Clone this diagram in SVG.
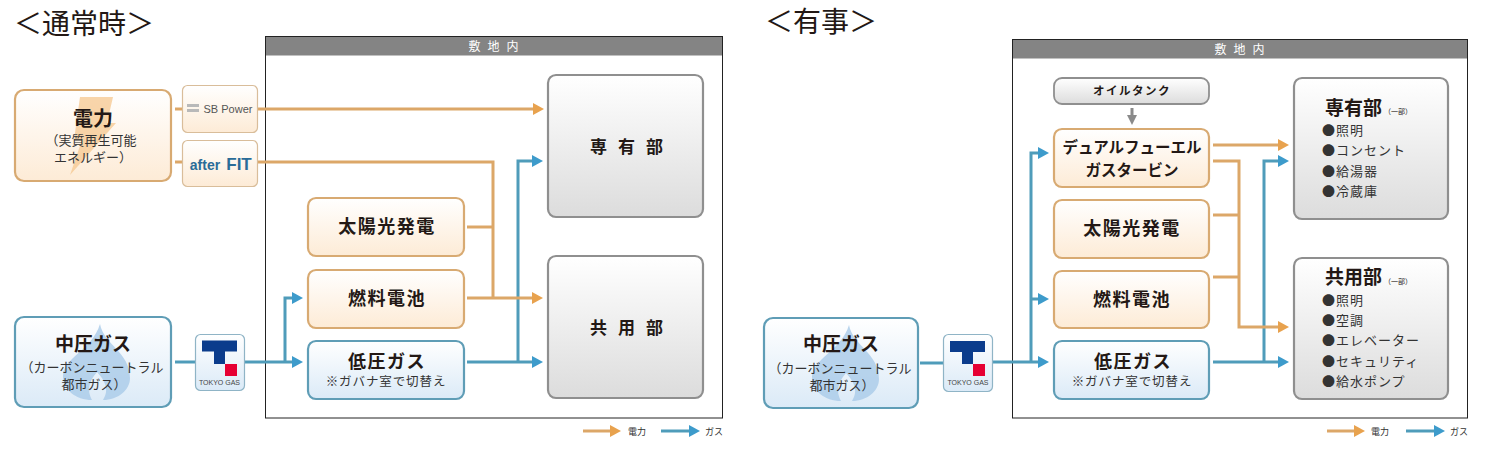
<svg xmlns="http://www.w3.org/2000/svg" width="1488" height="449" viewBox="0 0 1488 449">
<style>
text{font-family:"Noto Sans CJK JP","Noto Sans",sans-serif;fill:#231815;text-anchor:middle}
.box{stroke-width:2.2}
.o{fill:url(#go);stroke:#d8aa72}
.b{fill:url(#gb);stroke:#5f9db6}
.g{fill:url(#gg);stroke:#8f8f8f}
.s{fill:url(#go);stroke:#d9bd9a;stroke-width:1.2}
.t{fill:url(#gb);stroke:#8fb4c6;stroke-width:1.2}
.frame{fill:#fff;stroke:#222;stroke-width:1}
.hd{fill:#848484}
.hdt{fill:#fff;font-size:12px;letter-spacing:7px}
.h1{font-size:28px;text-anchor:start}
.big{font-size:18px;font-weight:700;letter-spacing:1.500px}
.dual{font-size:15.500px;font-weight:700}
.sub{font-size:13px;fill:#333}
.note{font-size:12.500px;letter-spacing:.9px;fill:#333}
.area{font-size:17px;font-weight:700;letter-spacing:11px}
.area2{font-size:19px;font-weight:700;text-anchor:start}
.tiny{font-size:7px;text-anchor:start}
.li{font-size:13px;text-anchor:start;fill:#333;letter-spacing:1px}
.lg{font-size:9px;text-anchor:start;fill:#333}
.co{fill:none;stroke:#dca768;stroke-width:3}
.cb{fill:none;stroke:#4f9cba;stroke-width:3}
.cg{fill:none;stroke:#8a8a8a;stroke-width:3}
.ao{marker-end:url(#mo)}
.ab{marker-end:url(#mb)}
.ag{marker-end:url(#mg)}
.tg{font-size:7px;fill:#444;font-family:"Liberation Sans",sans-serif}
</style>
<defs>
<linearGradient id="go" x1="0" y1="0" x2="0" y2="1"><stop offset="0" stop-color="#fff"/><stop offset="1" stop-color="#fdebd6"/></linearGradient>
<linearGradient id="gb" x1="0" y1="0" x2="0" y2="1"><stop offset="0" stop-color="#fff"/><stop offset="1" stop-color="#dbeaf7"/></linearGradient>
<linearGradient id="gg" x1="0" y1="0" x2="0" y2="1"><stop offset="0" stop-color="#fff"/><stop offset="1" stop-color="#dcdcdc"/></linearGradient>
<marker id="mo" markerUnits="userSpaceOnUse" markerWidth="11" markerHeight="12" viewBox="0 0 11 12" refX="1" refY="6" orient="auto"><path d="M0 0L11 6L0 12z" fill="#e8a24e"/></marker>
<marker id="mb" markerUnits="userSpaceOnUse" markerWidth="11" markerHeight="12" viewBox="0 0 11 12" refX="1" refY="6" orient="auto"><path d="M0 0L11 6L0 12z" fill="#3d9bcb"/></marker>
<marker id="mg" markerUnits="userSpaceOnUse" markerWidth="12" markerHeight="10" viewBox="0 0 12 10" refX="1" refY="5" orient="auto"><path d="M0 0L10 5L0 10z" fill="#8a8a8a"/></marker>
<path id="bolt" d="M80 97H113L107 123H116L70 175L82 140H74Z" fill="#f6c78f" opacity=".75"/>
<path id="flame" d="M100 324C104 345 130 352 130 378C130 390 118 400 103 400C108 392 108 384 97 372C87 384 88 392 92 400C76 400 63 390 63 376C63 358 92 350 100 324Z" fill="#a9cbe8" opacity=".8"/>
</defs>
<rect width="1488" height="449" fill="#fff"/>

<g id="title-left"><text class="h1" x="14" y="34">＜通常時＞</text></g>
<g id="title-right"><text class="h1" x="765" y="32">＜有事＞</text></g>

<g id="frame-left"><rect class="frame" x="265.500" y="36.500" width="457" height="381.500"/><rect class="hd" x="266" y="37" width="456" height="18.500"/><text class="hdt" x="497" y="51">敷地内</text></g>
<g id="frame-right"><rect class="frame" x="1012.500" y="39.500" width="455" height="378.500"/><rect class="hd" x="1013" y="40" width="454" height="18.500"/><text class="hdt" x="1243" y="54">敷地内</text></g>

<g id="connectors">
<path class="co" d="M175 109H182"/>
<path class="co ao" d="M258 109H534"/>
<path class="co" d="M175 162H182"/>
<path class="co" d="M258 162H493V298"/>
<path class="co" d="M467 227H493"/>
<path class="cb" d="M175 362H195"/>
<path class="cb ab" d="M245 362H293"/>
<path class="cb ab" d="M285 362V298H293"/>
<path class="cb ab" d="M467 362H533"/>
<path class="cb ab" d="M518 362V161H533"/>
<path class="co ao" d="M467 298H533"/>
<path class="co ao" d="M583 431H611"/>
<path class="cb ab" d="M661 431H690"/>

<path class="cg ag" d="M1132 108V116"/>
<path class="cb" d="M920 363H943"/>
<path class="cb ab" d="M992 362H1039"/>
<path class="cb ab" d="M1031 362V153H1039"/>
<path class="cb ab" d="M1031 299H1039"/>
<path class="cb ab" d="M1213 362H1279"/>
<path class="cb ab" d="M1264 362V161H1279"/>
<path class="co ao" d="M1213 145H1279"/>
<path class="co ao" d="M1213 161H1239V327H1279"/>
<path class="co" d="M1213 215H1239"/>
<path class="co" d="M1213 277H1239"/>
<path class="co ao" d="M1327 431H1355"/>
<path class="cb ab" d="M1406 431H1435"/>
</g>

<g id="node-power"><rect class="box o" x="15" y="90" width="156" height="91" rx="9"/><use href="#bolt"/><text x="93" y="126" font-size="20" font-weight="700">電力</text><text class="sub" x="91" y="145">（実質再生可能</text><text class="sub" x="93" y="162">エネルギー）</text></g>
<g id="node-sbpower"><rect class="s" x="182.500" y="85.500" width="75" height="47" rx="5"/><rect x="187" y="104" width="12" height="3" fill="#b9b9b9"/><rect x="187" y="109" width="12" height="3" fill="#b9b9b9"/><text x="228" y="113" style="font-family:'Liberation Sans',sans-serif;font-size:11px;fill:#555">SB Power</text></g>
<g id="node-afterfit"><rect class="s" x="182.500" y="140.500" width="75" height="46" rx="5"/><text x="205" y="170" style="font-family:'Liberation Sans',sans-serif;font-size:14px;font-weight:700;fill:#2a6c98">after</text><text x="239" y="170" style="font-family:'Liberation Sans',sans-serif;font-size:17px;font-weight:700;fill:#2a6c98">FIT</text></g>
<g id="node-mpgas"><rect class="box b" x="15" y="317" width="156" height="90" rx="9"/><use href="#flame"/><text x="93" y="351" font-size="19" font-weight="700">中圧ガス</text><text class="sub" x="92" y="372">（カーボンニュートラル</text><text class="sub" x="94" y="389">都市ガス）</text></g>
<g id="node-tokyogas"><rect class="t" x="195.500" y="334.500" width="49" height="56" rx="5"/><path d="M202 340.500H237V351.500H225V364H214V351.500H202Z" fill="#0b3c8c"/><rect x="225" y="364" width="12" height="12" fill="#e60033"/><text class="tg" x="219.500" y="385">TOKYO GAS</text></g>
<g id="node-solar"><rect class="box o" x="308" y="198" width="156" height="58" rx="8"/><text class="big" x="387" y="233">太陽光発電</text></g>
<g id="node-fc"><rect class="box o" x="308" y="270" width="156" height="58" rx="8"/><text class="big" x="387" y="305">燃料電池</text></g>
<g id="node-lpgas"><rect class="box b" x="308" y="341" width="156" height="58" rx="8"/><text class="big" x="387" y="368">低圧ガス</text><text class="note" x="386" y="386">※ガバナ室で切替え</text></g>
<g id="node-private"><rect class="box g" x="548" y="75" width="155" height="142" rx="8"/><text class="area" x="632" y="153">専有部</text></g>
<g id="node-common"><rect class="box g" x="548" y="256" width="155" height="142" rx="8"/><text class="area" x="632" y="334">共用部</text></g>
<g id="legend-left"><text class="lg" x="628" y="435">電力</text><text class="lg" x="705" y="435">ガス</text></g>

<g id="node-mpgas2"><rect class="box b" x="764" y="318" width="154" height="90" rx="9"/><use href="#flame" x="749" y="1"/><text x="841" y="351" font-size="19" font-weight="700">中圧ガス</text><text class="sub" x="840" y="373">（カーボンニュートラル</text><text class="sub" x="842" y="390">都市ガス）</text></g>
<g id="node-tokyogas2"><rect class="t" x="943.500" y="334.500" width="49" height="57" rx="5"/><path d="M950 341H985V352H973V364H962V352H950Z" fill="#0b3c8c"/><rect x="973" y="364" width="12" height="12" fill="#e60033"/><text class="tg" x="968" y="385">TOKYO GAS</text></g>
<g id="node-oil"><rect class="box g" x="1054" y="78" width="155" height="26" rx="8" style="stroke-width:1.8"/><text x="1132" y="95" font-size="11.500" font-weight="700" letter-spacing="1.500">オイルタンク</text></g>
<g id="node-dual"><rect class="box o" x="1054" y="129" width="155" height="58" rx="8"/><text class="dual"><tspan x="1132" y="153">デュアルフューエル</tspan><tspan x="1132" y="175.500">ガスタービン</tspan></text></g>
<g id="node-solar2"><rect class="box o" x="1054" y="200" width="155" height="58" rx="8"/><text class="big" x="1132" y="235">太陽光発電</text></g>
<g id="node-fc2"><rect class="box o" x="1054" y="271" width="155" height="57" rx="8"/><text class="big" x="1132" y="306">燃料電池</text></g>
<g id="node-lpgas2"><rect class="box b" x="1054" y="341" width="155" height="58" rx="8"/><text class="big" x="1133" y="368">低圧ガス</text><text class="note" x="1132" y="386">※ガバナ室で切替え</text></g>
<g id="node-private2"><rect class="box g" x="1294" y="78" width="154" height="141" rx="8"/><text class="area2" x="1325" y="115">専有部</text><text class="tiny" x="1384" y="114">（一部）</text><text class="li" x="1322" y="135">●照明</text><text class="li" x="1322" y="155">●コンセント</text><text class="li" x="1322" y="176">●給湯器</text><text class="li" x="1322" y="196">●冷蔵庫</text></g>
<g id="node-common2"><rect class="box g" x="1294" y="258" width="154" height="141" rx="8"/><text class="area2" x="1325" y="284">共用部</text><text class="tiny" x="1384" y="284">（一部）</text><text class="li" x="1322" y="305">●照明</text><text class="li" x="1322" y="325">●空調</text><text class="li" x="1322" y="345">●エレベーター</text><text class="li" x="1322" y="366">●セキュリティ</text><text class="li" x="1322" y="386">●給水ポンプ</text></g>
<g id="legend-right"><text class="lg" x="1371" y="435">電力</text><text class="lg" x="1450" y="435">ガス</text></g>
</svg>
